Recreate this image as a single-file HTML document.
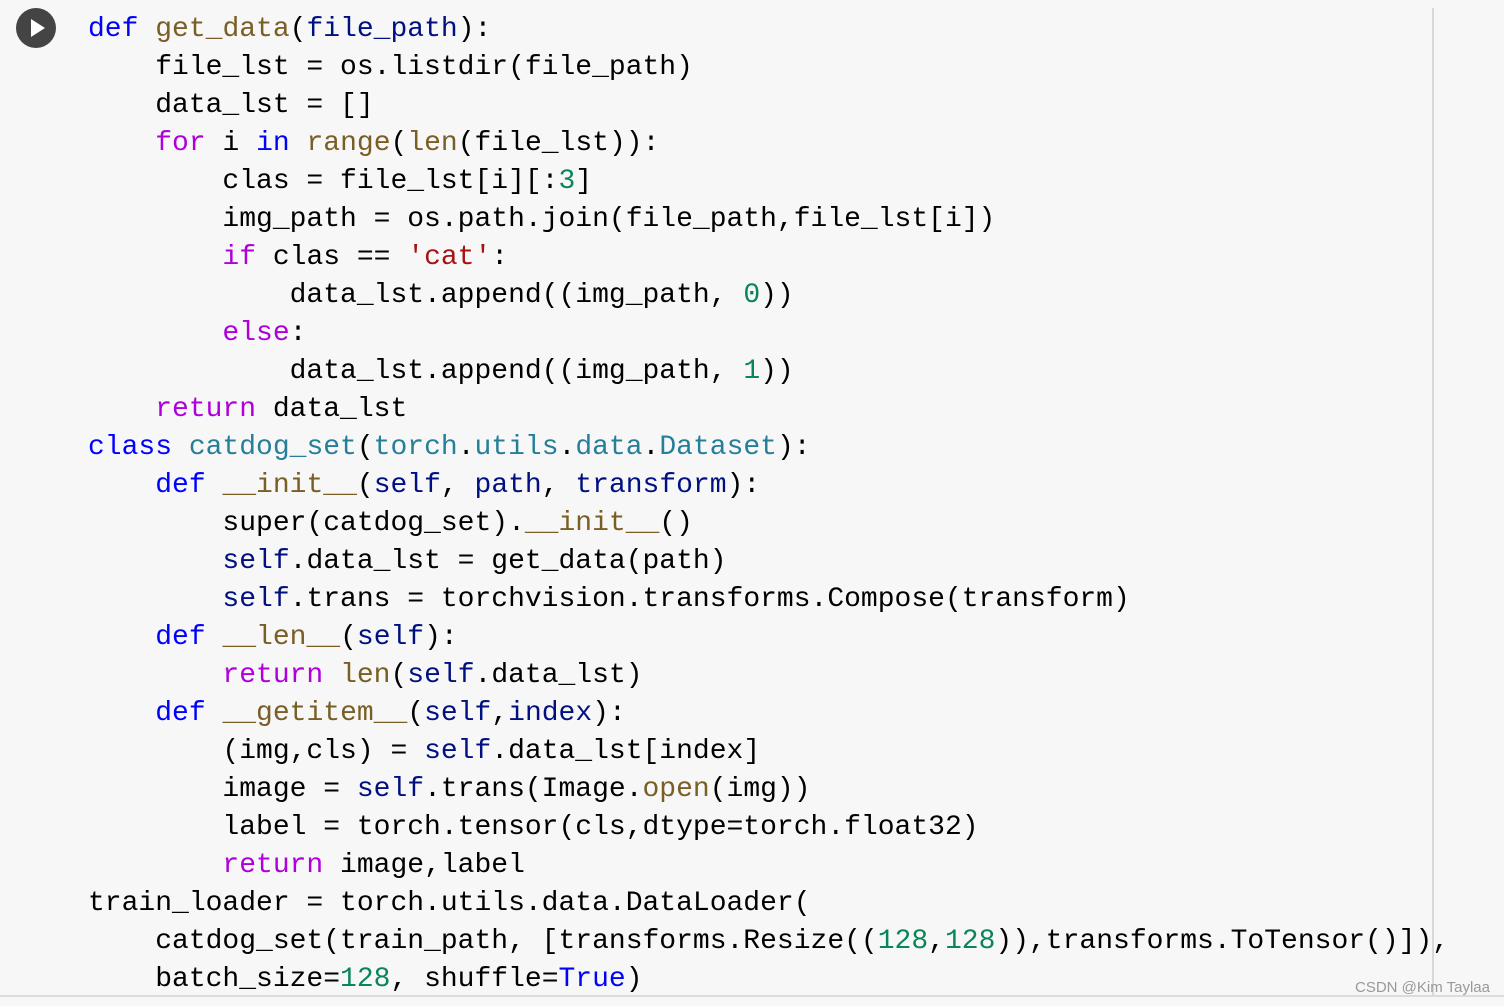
<!DOCTYPE html>
<html><head><meta charset="utf-8"><style>
html,body{margin:0;padding:0;background:#f7f7f7;width:1504px;height:1006px;overflow:hidden;position:relative}
pre{position:absolute;left:88px;top:11px;margin:0;font-family:"Liberation Mono",monospace;font-size:28px;line-height:38px;color:#000;white-space:pre}
.k{color:#0000ff}.p{color:#af00db}.f{color:#795e26}.v{color:#001080}.c{color:#267f99}.n{color:#098658}.s{color:#a31515}
#run{position:absolute;left:16px;top:8px;width:40px;height:40px;border-radius:50%;background:#444}
#run:after{content:"";position:absolute;left:15px;top:11px;border-left:14px solid #fff;border-top:9px solid transparent;border-bottom:9px solid transparent}
#vl{position:absolute;left:1432px;top:8px;width:2px;height:988px;background:#d8d8d8}
#bl{position:absolute;left:0;top:995px;width:1504px;height:2px;background:#dcdcdc}
#wm{position:absolute;right:14px;top:979px;font-family:"Liberation Sans",sans-serif;font-size:15px;color:#999}
</style></head><body>
<div id="run"></div><div id="vl"></div><div id="bl"></div>
<pre><span class="k">def</span> <span class="f">get_data</span>(<span class="v">file_path</span>):
    file_lst = os.listdir(file_path)
    data_lst = []
    <span class="p">for</span> i <span class="k">in</span> <span class="f">range</span>(<span class="f">len</span>(file_lst)):
        clas = file_lst[i][:<span class="n">3</span>]
        img_path = os.path.join(file_path,file_lst[i])
        <span class="p">if</span> clas == <span class="s">'cat'</span>:
            data_lst.append((img_path, <span class="n">0</span>))
        <span class="p">else</span>:
            data_lst.append((img_path, <span class="n">1</span>))
    <span class="p">return</span> data_lst
<span class="k">class</span> <span class="c">catdog_set</span>(<span class="c">torch</span>.<span class="c">utils</span>.<span class="c">data</span>.<span class="c">Dataset</span>):
    <span class="k">def</span> <span class="f">__init__</span>(<span class="v">self</span>, <span class="v">path</span>, <span class="v">transform</span>):
        super(catdog_set).<span class="f">__init__</span>()
        <span class="v">self</span>.data_lst = get_data(path)
        <span class="v">self</span>.trans = torchvision.transforms.Compose(transform)
    <span class="k">def</span> <span class="f">__len__</span>(<span class="v">self</span>):
        <span class="p">return</span> <span class="f">len</span>(<span class="v">self</span>.data_lst)
    <span class="k">def</span> <span class="f">__getitem__</span>(<span class="v">self</span>,<span class="v">index</span>):
        (img,cls) = <span class="v">self</span>.data_lst[index]
        image = <span class="v">self</span>.trans(Image.<span class="f">open</span>(img))
        label = torch.tensor(cls,dtype=torch.float32)
        <span class="p">return</span> image,label
train_loader = torch.utils.data.DataLoader(
    catdog_set(train_path, [transforms.Resize((<span class="n">128</span>,<span class="n">128</span>)),transforms.ToTensor()]),
    batch_size=<span class="n">128</span>, shuffle=<span class="k">True</span>)</pre>
<div id="wm">CSDN @Kim Taylaa</div>
</body></html>
